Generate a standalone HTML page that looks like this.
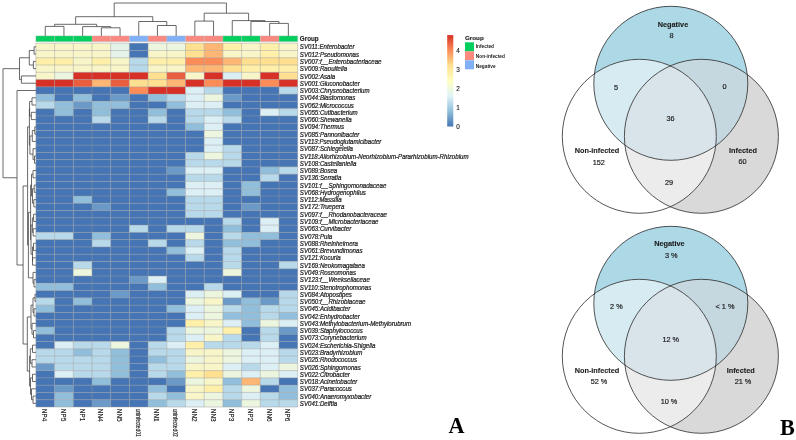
<!DOCTYPE html><html><head><meta charset="utf-8"><style>html,body{margin:0;padding:0;background:#fff;}svg{display:block;will-change:transform;}text{font-family:"Liberation Sans",sans-serif;}</style></head><body>
<svg width="796" height="440" viewBox="0 0 796 440">
<rect width="796" height="440" fill="#fff"/>
<rect x="35.90" y="43.20" width="18.70" height="7.28" fill="#F8F6C8"/>
<rect x="54.60" y="43.20" width="18.70" height="7.28" fill="#F8F6C8"/>
<rect x="73.30" y="43.20" width="18.70" height="7.28" fill="#F8F6C8"/>
<rect x="92.00" y="43.20" width="18.70" height="7.28" fill="#F8F6C8"/>
<rect x="110.70" y="43.20" width="18.70" height="7.28" fill="#E5F2E8"/>
<rect x="129.40" y="43.20" width="18.70" height="7.28" fill="#4575B4"/>
<rect x="148.10" y="43.20" width="18.70" height="7.28" fill="#ECF5DD"/>
<rect x="166.80" y="43.20" width="18.70" height="7.28" fill="#ECF5DD"/>
<rect x="185.50" y="43.20" width="18.70" height="7.28" fill="#FEE090"/>
<rect x="204.20" y="43.20" width="18.70" height="7.28" fill="#FDB674"/>
<rect x="222.90" y="43.20" width="18.70" height="7.28" fill="#FEF0A8"/>
<rect x="241.60" y="43.20" width="18.70" height="7.28" fill="#F8F6C8"/>
<rect x="260.30" y="43.20" width="18.70" height="7.28" fill="#FEF0A8"/>
<rect x="279.00" y="43.20" width="18.70" height="7.28" fill="#F8F6C8"/>
<rect x="35.90" y="50.48" width="18.70" height="7.28" fill="#F8F6C8"/>
<rect x="54.60" y="50.48" width="18.70" height="7.28" fill="#F8F6C8"/>
<rect x="73.30" y="50.48" width="18.70" height="7.28" fill="#F8F6C8"/>
<rect x="92.00" y="50.48" width="18.70" height="7.28" fill="#F8F6C8"/>
<rect x="110.70" y="50.48" width="18.70" height="7.28" fill="#E5F2E8"/>
<rect x="129.40" y="50.48" width="18.70" height="7.28" fill="#4575B4"/>
<rect x="148.10" y="50.48" width="18.70" height="7.28" fill="#F8F6C8"/>
<rect x="166.80" y="50.48" width="18.70" height="7.28" fill="#F8F6C8"/>
<rect x="185.50" y="50.48" width="18.70" height="7.28" fill="#FEE090"/>
<rect x="204.20" y="50.48" width="18.70" height="7.28" fill="#FDB674"/>
<rect x="222.90" y="50.48" width="18.70" height="7.28" fill="#F8F6C8"/>
<rect x="241.60" y="50.48" width="18.70" height="7.28" fill="#F8F6C8"/>
<rect x="260.30" y="50.48" width="18.70" height="7.28" fill="#FEF0A8"/>
<rect x="279.00" y="50.48" width="18.70" height="7.28" fill="#F8F6C8"/>
<rect x="35.90" y="57.75" width="18.70" height="7.28" fill="#FEF0A8"/>
<rect x="54.60" y="57.75" width="18.70" height="7.28" fill="#FEF0A8"/>
<rect x="73.30" y="57.75" width="18.70" height="7.28" fill="#F8F6C8"/>
<rect x="92.00" y="57.75" width="18.70" height="7.28" fill="#FEF0A8"/>
<rect x="110.70" y="57.75" width="18.70" height="7.28" fill="#F8F6C8"/>
<rect x="129.40" y="57.75" width="18.70" height="7.28" fill="#B8D9EA"/>
<rect x="148.10" y="57.75" width="18.70" height="7.28" fill="#FEF0A8"/>
<rect x="166.80" y="57.75" width="18.70" height="7.28" fill="#FEF0A8"/>
<rect x="185.50" y="57.75" width="18.70" height="7.28" fill="#FC8D59"/>
<rect x="204.20" y="57.75" width="18.70" height="7.28" fill="#FC8D59"/>
<rect x="222.90" y="57.75" width="18.70" height="7.28" fill="#FDB674"/>
<rect x="241.60" y="57.75" width="18.70" height="7.28" fill="#FEE090"/>
<rect x="260.30" y="57.75" width="18.70" height="7.28" fill="#FEE090"/>
<rect x="279.00" y="57.75" width="18.70" height="7.28" fill="#FEE090"/>
<rect x="35.90" y="65.03" width="18.70" height="7.28" fill="#F8F6C8"/>
<rect x="54.60" y="65.03" width="18.70" height="7.28" fill="#F8F6C8"/>
<rect x="73.30" y="65.03" width="18.70" height="7.28" fill="#F8F6C8"/>
<rect x="92.00" y="65.03" width="18.70" height="7.28" fill="#F8F6C8"/>
<rect x="110.70" y="65.03" width="18.70" height="7.28" fill="#F8F6C8"/>
<rect x="129.40" y="65.03" width="18.70" height="7.28" fill="#B8D9EA"/>
<rect x="148.10" y="65.03" width="18.70" height="7.28" fill="#F8F6C8"/>
<rect x="166.80" y="65.03" width="18.70" height="7.28" fill="#F8F6C8"/>
<rect x="185.50" y="65.03" width="18.70" height="7.28" fill="#FDB674"/>
<rect x="204.20" y="65.03" width="18.70" height="7.28" fill="#FDB674"/>
<rect x="222.90" y="65.03" width="18.70" height="7.28" fill="#FEE090"/>
<rect x="241.60" y="65.03" width="18.70" height="7.28" fill="#FEF0A8"/>
<rect x="260.30" y="65.03" width="18.70" height="7.28" fill="#FEF0A8"/>
<rect x="279.00" y="65.03" width="18.70" height="7.28" fill="#FEF0A8"/>
<rect x="35.90" y="72.30" width="18.70" height="7.28" fill="#F8F6C8"/>
<rect x="54.60" y="72.30" width="18.70" height="7.28" fill="#ECF5DD"/>
<rect x="73.30" y="72.30" width="18.70" height="7.28" fill="#D73027"/>
<rect x="92.00" y="72.30" width="18.70" height="7.28" fill="#D73027"/>
<rect x="110.70" y="72.30" width="18.70" height="7.28" fill="#D73027"/>
<rect x="129.40" y="72.30" width="18.70" height="7.28" fill="#D73027"/>
<rect x="148.10" y="72.30" width="18.70" height="7.28" fill="#FEE090"/>
<rect x="166.80" y="72.30" width="18.70" height="7.28" fill="#EA5E40"/>
<rect x="185.50" y="72.30" width="18.70" height="7.28" fill="#F8F6C8"/>
<rect x="204.20" y="72.30" width="18.70" height="7.28" fill="#D73027"/>
<rect x="222.90" y="72.30" width="18.70" height="7.28" fill="#DCEFF4"/>
<rect x="241.60" y="72.30" width="18.70" height="7.28" fill="#F8F6C8"/>
<rect x="260.30" y="72.30" width="18.70" height="7.28" fill="#D73027"/>
<rect x="279.00" y="72.30" width="18.70" height="7.28" fill="#FEE090"/>
<rect x="35.90" y="79.58" width="18.70" height="7.28" fill="#D73027"/>
<rect x="54.60" y="79.58" width="18.70" height="7.28" fill="#D73027"/>
<rect x="73.30" y="79.58" width="18.70" height="7.28" fill="#EA5E40"/>
<rect x="92.00" y="79.58" width="18.70" height="7.28" fill="#FDB674"/>
<rect x="110.70" y="79.58" width="18.70" height="7.28" fill="#EA5E40"/>
<rect x="129.40" y="79.58" width="18.70" height="7.28" fill="#FEE090"/>
<rect x="148.10" y="79.58" width="18.70" height="7.28" fill="#FEE090"/>
<rect x="166.80" y="79.58" width="18.70" height="7.28" fill="#FDB674"/>
<rect x="185.50" y="79.58" width="18.70" height="7.28" fill="#D73027"/>
<rect x="204.20" y="79.58" width="18.70" height="7.28" fill="#FC8D59"/>
<rect x="222.90" y="79.58" width="18.70" height="7.28" fill="#D73027"/>
<rect x="241.60" y="79.58" width="18.70" height="7.28" fill="#D73027"/>
<rect x="260.30" y="79.58" width="18.70" height="7.28" fill="#FC8D59"/>
<rect x="279.00" y="79.58" width="18.70" height="7.28" fill="#D73027"/>
<rect x="35.90" y="86.86" width="18.70" height="7.28" fill="#4575B4"/>
<rect x="54.60" y="86.86" width="18.70" height="7.28" fill="#4575B4"/>
<rect x="73.30" y="86.86" width="18.70" height="7.28" fill="#4575B4"/>
<rect x="92.00" y="86.86" width="18.70" height="7.28" fill="#4575B4"/>
<rect x="110.70" y="86.86" width="18.70" height="7.28" fill="#4575B4"/>
<rect x="129.40" y="86.86" width="18.70" height="7.28" fill="#FC8D59"/>
<rect x="148.10" y="86.86" width="18.70" height="7.28" fill="#D73027"/>
<rect x="166.80" y="86.86" width="18.70" height="7.28" fill="#D73027"/>
<rect x="185.50" y="86.86" width="18.70" height="7.28" fill="#DCEFF4"/>
<rect x="204.20" y="86.86" width="18.70" height="7.28" fill="#B8D9EA"/>
<rect x="222.90" y="86.86" width="18.70" height="7.28" fill="#4575B4"/>
<rect x="241.60" y="86.86" width="18.70" height="7.28" fill="#4575B4"/>
<rect x="260.30" y="86.86" width="18.70" height="7.28" fill="#4575B4"/>
<rect x="279.00" y="86.86" width="18.70" height="7.28" fill="#B8D9EA"/>
<rect x="35.90" y="94.13" width="18.70" height="7.28" fill="#91BFDB"/>
<rect x="54.60" y="94.13" width="18.70" height="7.28" fill="#4575B4"/>
<rect x="73.30" y="94.13" width="18.70" height="7.28" fill="#91BFDB"/>
<rect x="92.00" y="94.13" width="18.70" height="7.28" fill="#4575B4"/>
<rect x="110.70" y="94.13" width="18.70" height="7.28" fill="#6B9AC8"/>
<rect x="129.40" y="94.13" width="18.70" height="7.28" fill="#4575B4"/>
<rect x="148.10" y="94.13" width="18.70" height="7.28" fill="#91BFDB"/>
<rect x="166.80" y="94.13" width="18.70" height="7.28" fill="#B8D9EA"/>
<rect x="185.50" y="94.13" width="18.70" height="7.28" fill="#DCEFF4"/>
<rect x="204.20" y="94.13" width="18.70" height="7.28" fill="#ECF5DD"/>
<rect x="222.90" y="94.13" width="18.70" height="7.28" fill="#6B9AC8"/>
<rect x="241.60" y="94.13" width="18.70" height="7.28" fill="#4575B4"/>
<rect x="260.30" y="94.13" width="18.70" height="7.28" fill="#4575B4"/>
<rect x="279.00" y="94.13" width="18.70" height="7.28" fill="#4575B4"/>
<rect x="35.90" y="101.41" width="18.70" height="7.28" fill="#B8D9EA"/>
<rect x="54.60" y="101.41" width="18.70" height="7.28" fill="#91BFDB"/>
<rect x="73.30" y="101.41" width="18.70" height="7.28" fill="#6B9AC8"/>
<rect x="92.00" y="101.41" width="18.70" height="7.28" fill="#91BFDB"/>
<rect x="110.70" y="101.41" width="18.70" height="7.28" fill="#91BFDB"/>
<rect x="129.40" y="101.41" width="18.70" height="7.28" fill="#4575B4"/>
<rect x="148.10" y="101.41" width="18.70" height="7.28" fill="#4575B4"/>
<rect x="166.80" y="101.41" width="18.70" height="7.28" fill="#91BFDB"/>
<rect x="185.50" y="101.41" width="18.70" height="7.28" fill="#DCEFF4"/>
<rect x="204.20" y="101.41" width="18.70" height="7.28" fill="#DCEFF4"/>
<rect x="222.90" y="101.41" width="18.70" height="7.28" fill="#4575B4"/>
<rect x="241.60" y="101.41" width="18.70" height="7.28" fill="#4575B4"/>
<rect x="260.30" y="101.41" width="18.70" height="7.28" fill="#4575B4"/>
<rect x="279.00" y="101.41" width="18.70" height="7.28" fill="#4575B4"/>
<rect x="35.90" y="108.68" width="18.70" height="7.28" fill="#4575B4"/>
<rect x="54.60" y="108.68" width="18.70" height="7.28" fill="#91BFDB"/>
<rect x="73.30" y="108.68" width="18.70" height="7.28" fill="#4575B4"/>
<rect x="92.00" y="108.68" width="18.70" height="7.28" fill="#91BFDB"/>
<rect x="110.70" y="108.68" width="18.70" height="7.28" fill="#4575B4"/>
<rect x="129.40" y="108.68" width="18.70" height="7.28" fill="#4575B4"/>
<rect x="148.10" y="108.68" width="18.70" height="7.28" fill="#91BFDB"/>
<rect x="166.80" y="108.68" width="18.70" height="7.28" fill="#4575B4"/>
<rect x="185.50" y="108.68" width="18.70" height="7.28" fill="#B8D9EA"/>
<rect x="204.20" y="108.68" width="18.70" height="7.28" fill="#B8D9EA"/>
<rect x="222.90" y="108.68" width="18.70" height="7.28" fill="#91BFDB"/>
<rect x="241.60" y="108.68" width="18.70" height="7.28" fill="#4575B4"/>
<rect x="260.30" y="108.68" width="18.70" height="7.28" fill="#DCEFF4"/>
<rect x="279.00" y="108.68" width="18.70" height="7.28" fill="#B8D9EA"/>
<rect x="35.90" y="115.96" width="18.70" height="7.28" fill="#4575B4"/>
<rect x="54.60" y="115.96" width="18.70" height="7.28" fill="#4575B4"/>
<rect x="73.30" y="115.96" width="18.70" height="7.28" fill="#4575B4"/>
<rect x="92.00" y="115.96" width="18.70" height="7.28" fill="#B8D9EA"/>
<rect x="110.70" y="115.96" width="18.70" height="7.28" fill="#4575B4"/>
<rect x="129.40" y="115.96" width="18.70" height="7.28" fill="#4575B4"/>
<rect x="148.10" y="115.96" width="18.70" height="7.28" fill="#B8D9EA"/>
<rect x="166.80" y="115.96" width="18.70" height="7.28" fill="#4575B4"/>
<rect x="185.50" y="115.96" width="18.70" height="7.28" fill="#B8D9EA"/>
<rect x="204.20" y="115.96" width="18.70" height="7.28" fill="#DCEFF4"/>
<rect x="222.90" y="115.96" width="18.70" height="7.28" fill="#B8D9EA"/>
<rect x="241.60" y="115.96" width="18.70" height="7.28" fill="#4575B4"/>
<rect x="260.30" y="115.96" width="18.70" height="7.28" fill="#4575B4"/>
<rect x="279.00" y="115.96" width="18.70" height="7.28" fill="#4575B4"/>
<rect x="35.90" y="123.24" width="18.70" height="7.28" fill="#4575B4"/>
<rect x="54.60" y="123.24" width="18.70" height="7.28" fill="#4575B4"/>
<rect x="73.30" y="123.24" width="18.70" height="7.28" fill="#4575B4"/>
<rect x="92.00" y="123.24" width="18.70" height="7.28" fill="#4575B4"/>
<rect x="110.70" y="123.24" width="18.70" height="7.28" fill="#4575B4"/>
<rect x="129.40" y="123.24" width="18.70" height="7.28" fill="#4575B4"/>
<rect x="148.10" y="123.24" width="18.70" height="7.28" fill="#4575B4"/>
<rect x="166.80" y="123.24" width="18.70" height="7.28" fill="#4575B4"/>
<rect x="185.50" y="123.24" width="18.70" height="7.28" fill="#91BFDB"/>
<rect x="204.20" y="123.24" width="18.70" height="7.28" fill="#DCEFF4"/>
<rect x="222.90" y="123.24" width="18.70" height="7.28" fill="#4575B4"/>
<rect x="241.60" y="123.24" width="18.70" height="7.28" fill="#4575B4"/>
<rect x="260.30" y="123.24" width="18.70" height="7.28" fill="#4575B4"/>
<rect x="279.00" y="123.24" width="18.70" height="7.28" fill="#4575B4"/>
<rect x="35.90" y="130.51" width="18.70" height="7.28" fill="#4575B4"/>
<rect x="54.60" y="130.51" width="18.70" height="7.28" fill="#4575B4"/>
<rect x="73.30" y="130.51" width="18.70" height="7.28" fill="#4575B4"/>
<rect x="92.00" y="130.51" width="18.70" height="7.28" fill="#4575B4"/>
<rect x="110.70" y="130.51" width="18.70" height="7.28" fill="#4575B4"/>
<rect x="129.40" y="130.51" width="18.70" height="7.28" fill="#4575B4"/>
<rect x="148.10" y="130.51" width="18.70" height="7.28" fill="#4575B4"/>
<rect x="166.80" y="130.51" width="18.70" height="7.28" fill="#4575B4"/>
<rect x="185.50" y="130.51" width="18.70" height="7.28" fill="#4575B4"/>
<rect x="204.20" y="130.51" width="18.70" height="7.28" fill="#ECF5DD"/>
<rect x="222.90" y="130.51" width="18.70" height="7.28" fill="#4575B4"/>
<rect x="241.60" y="130.51" width="18.70" height="7.28" fill="#4575B4"/>
<rect x="260.30" y="130.51" width="18.70" height="7.28" fill="#4575B4"/>
<rect x="279.00" y="130.51" width="18.70" height="7.28" fill="#4575B4"/>
<rect x="35.90" y="137.79" width="18.70" height="7.28" fill="#4575B4"/>
<rect x="54.60" y="137.79" width="18.70" height="7.28" fill="#4575B4"/>
<rect x="73.30" y="137.79" width="18.70" height="7.28" fill="#4575B4"/>
<rect x="92.00" y="137.79" width="18.70" height="7.28" fill="#4575B4"/>
<rect x="110.70" y="137.79" width="18.70" height="7.28" fill="#4575B4"/>
<rect x="129.40" y="137.79" width="18.70" height="7.28" fill="#4575B4"/>
<rect x="148.10" y="137.79" width="18.70" height="7.28" fill="#4575B4"/>
<rect x="166.80" y="137.79" width="18.70" height="7.28" fill="#4575B4"/>
<rect x="185.50" y="137.79" width="18.70" height="7.28" fill="#4575B4"/>
<rect x="204.20" y="137.79" width="18.70" height="7.28" fill="#DCEFF4"/>
<rect x="222.90" y="137.79" width="18.70" height="7.28" fill="#4575B4"/>
<rect x="241.60" y="137.79" width="18.70" height="7.28" fill="#4575B4"/>
<rect x="260.30" y="137.79" width="18.70" height="7.28" fill="#4575B4"/>
<rect x="279.00" y="137.79" width="18.70" height="7.28" fill="#4575B4"/>
<rect x="35.90" y="145.06" width="18.70" height="7.28" fill="#4575B4"/>
<rect x="54.60" y="145.06" width="18.70" height="7.28" fill="#4575B4"/>
<rect x="73.30" y="145.06" width="18.70" height="7.28" fill="#4575B4"/>
<rect x="92.00" y="145.06" width="18.70" height="7.28" fill="#4575B4"/>
<rect x="110.70" y="145.06" width="18.70" height="7.28" fill="#4575B4"/>
<rect x="129.40" y="145.06" width="18.70" height="7.28" fill="#4575B4"/>
<rect x="148.10" y="145.06" width="18.70" height="7.28" fill="#4575B4"/>
<rect x="166.80" y="145.06" width="18.70" height="7.28" fill="#4575B4"/>
<rect x="185.50" y="145.06" width="18.70" height="7.28" fill="#4575B4"/>
<rect x="204.20" y="145.06" width="18.70" height="7.28" fill="#DCEFF4"/>
<rect x="222.90" y="145.06" width="18.70" height="7.28" fill="#B8D9EA"/>
<rect x="241.60" y="145.06" width="18.70" height="7.28" fill="#4575B4"/>
<rect x="260.30" y="145.06" width="18.70" height="7.28" fill="#4575B4"/>
<rect x="279.00" y="145.06" width="18.70" height="7.28" fill="#4575B4"/>
<rect x="35.90" y="152.34" width="18.70" height="7.28" fill="#4575B4"/>
<rect x="54.60" y="152.34" width="18.70" height="7.28" fill="#4575B4"/>
<rect x="73.30" y="152.34" width="18.70" height="7.28" fill="#4575B4"/>
<rect x="92.00" y="152.34" width="18.70" height="7.28" fill="#4575B4"/>
<rect x="110.70" y="152.34" width="18.70" height="7.28" fill="#4575B4"/>
<rect x="129.40" y="152.34" width="18.70" height="7.28" fill="#4575B4"/>
<rect x="148.10" y="152.34" width="18.70" height="7.28" fill="#4575B4"/>
<rect x="166.80" y="152.34" width="18.70" height="7.28" fill="#4575B4"/>
<rect x="185.50" y="152.34" width="18.70" height="7.28" fill="#B8D9EA"/>
<rect x="204.20" y="152.34" width="18.70" height="7.28" fill="#ECF5DD"/>
<rect x="222.90" y="152.34" width="18.70" height="7.28" fill="#B8D9EA"/>
<rect x="241.60" y="152.34" width="18.70" height="7.28" fill="#4575B4"/>
<rect x="260.30" y="152.34" width="18.70" height="7.28" fill="#4575B4"/>
<rect x="279.00" y="152.34" width="18.70" height="7.28" fill="#4575B4"/>
<rect x="35.90" y="159.62" width="18.70" height="7.28" fill="#4575B4"/>
<rect x="54.60" y="159.62" width="18.70" height="7.28" fill="#4575B4"/>
<rect x="73.30" y="159.62" width="18.70" height="7.28" fill="#4575B4"/>
<rect x="92.00" y="159.62" width="18.70" height="7.28" fill="#4575B4"/>
<rect x="110.70" y="159.62" width="18.70" height="7.28" fill="#4575B4"/>
<rect x="129.40" y="159.62" width="18.70" height="7.28" fill="#4575B4"/>
<rect x="148.10" y="159.62" width="18.70" height="7.28" fill="#4575B4"/>
<rect x="166.80" y="159.62" width="18.70" height="7.28" fill="#4575B4"/>
<rect x="185.50" y="159.62" width="18.70" height="7.28" fill="#B8D9EA"/>
<rect x="204.20" y="159.62" width="18.70" height="7.28" fill="#B8D9EA"/>
<rect x="222.90" y="159.62" width="18.70" height="7.28" fill="#B8D9EA"/>
<rect x="241.60" y="159.62" width="18.70" height="7.28" fill="#4575B4"/>
<rect x="260.30" y="159.62" width="18.70" height="7.28" fill="#4575B4"/>
<rect x="279.00" y="159.62" width="18.70" height="7.28" fill="#4575B4"/>
<rect x="35.90" y="166.89" width="18.70" height="7.28" fill="#4575B4"/>
<rect x="54.60" y="166.89" width="18.70" height="7.28" fill="#4575B4"/>
<rect x="73.30" y="166.89" width="18.70" height="7.28" fill="#4575B4"/>
<rect x="92.00" y="166.89" width="18.70" height="7.28" fill="#4575B4"/>
<rect x="110.70" y="166.89" width="18.70" height="7.28" fill="#4575B4"/>
<rect x="129.40" y="166.89" width="18.70" height="7.28" fill="#4575B4"/>
<rect x="148.10" y="166.89" width="18.70" height="7.28" fill="#4575B4"/>
<rect x="166.80" y="166.89" width="18.70" height="7.28" fill="#6B9AC8"/>
<rect x="185.50" y="166.89" width="18.70" height="7.28" fill="#DCEFF4"/>
<rect x="204.20" y="166.89" width="18.70" height="7.28" fill="#DCEFF4"/>
<rect x="222.90" y="166.89" width="18.70" height="7.28" fill="#4575B4"/>
<rect x="241.60" y="166.89" width="18.70" height="7.28" fill="#4575B4"/>
<rect x="260.30" y="166.89" width="18.70" height="7.28" fill="#91BFDB"/>
<rect x="279.00" y="166.89" width="18.70" height="7.28" fill="#B8D9EA"/>
<rect x="35.90" y="174.17" width="18.70" height="7.28" fill="#4575B4"/>
<rect x="54.60" y="174.17" width="18.70" height="7.28" fill="#4575B4"/>
<rect x="73.30" y="174.17" width="18.70" height="7.28" fill="#4575B4"/>
<rect x="92.00" y="174.17" width="18.70" height="7.28" fill="#4575B4"/>
<rect x="110.70" y="174.17" width="18.70" height="7.28" fill="#4575B4"/>
<rect x="129.40" y="174.17" width="18.70" height="7.28" fill="#4575B4"/>
<rect x="148.10" y="174.17" width="18.70" height="7.28" fill="#4575B4"/>
<rect x="166.80" y="174.17" width="18.70" height="7.28" fill="#4575B4"/>
<rect x="185.50" y="174.17" width="18.70" height="7.28" fill="#B8D9EA"/>
<rect x="204.20" y="174.17" width="18.70" height="7.28" fill="#B8D9EA"/>
<rect x="222.90" y="174.17" width="18.70" height="7.28" fill="#4575B4"/>
<rect x="241.60" y="174.17" width="18.70" height="7.28" fill="#4575B4"/>
<rect x="260.30" y="174.17" width="18.70" height="7.28" fill="#B8D9EA"/>
<rect x="279.00" y="174.17" width="18.70" height="7.28" fill="#4575B4"/>
<rect x="35.90" y="181.44" width="18.70" height="7.28" fill="#4575B4"/>
<rect x="54.60" y="181.44" width="18.70" height="7.28" fill="#4575B4"/>
<rect x="73.30" y="181.44" width="18.70" height="7.28" fill="#4575B4"/>
<rect x="92.00" y="181.44" width="18.70" height="7.28" fill="#4575B4"/>
<rect x="110.70" y="181.44" width="18.70" height="7.28" fill="#4575B4"/>
<rect x="129.40" y="181.44" width="18.70" height="7.28" fill="#4575B4"/>
<rect x="148.10" y="181.44" width="18.70" height="7.28" fill="#4575B4"/>
<rect x="166.80" y="181.44" width="18.70" height="7.28" fill="#4575B4"/>
<rect x="185.50" y="181.44" width="18.70" height="7.28" fill="#DCEFF4"/>
<rect x="204.20" y="181.44" width="18.70" height="7.28" fill="#DCEFF4"/>
<rect x="222.90" y="181.44" width="18.70" height="7.28" fill="#4575B4"/>
<rect x="241.60" y="181.44" width="18.70" height="7.28" fill="#91BFDB"/>
<rect x="260.30" y="181.44" width="18.70" height="7.28" fill="#4575B4"/>
<rect x="279.00" y="181.44" width="18.70" height="7.28" fill="#4575B4"/>
<rect x="35.90" y="188.72" width="18.70" height="7.28" fill="#4575B4"/>
<rect x="54.60" y="188.72" width="18.70" height="7.28" fill="#4575B4"/>
<rect x="73.30" y="188.72" width="18.70" height="7.28" fill="#4575B4"/>
<rect x="92.00" y="188.72" width="18.70" height="7.28" fill="#4575B4"/>
<rect x="110.70" y="188.72" width="18.70" height="7.28" fill="#4575B4"/>
<rect x="129.40" y="188.72" width="18.70" height="7.28" fill="#4575B4"/>
<rect x="148.10" y="188.72" width="18.70" height="7.28" fill="#4575B4"/>
<rect x="166.80" y="188.72" width="18.70" height="7.28" fill="#91BFDB"/>
<rect x="185.50" y="188.72" width="18.70" height="7.28" fill="#DCEFF4"/>
<rect x="204.20" y="188.72" width="18.70" height="7.28" fill="#DCEFF4"/>
<rect x="222.90" y="188.72" width="18.70" height="7.28" fill="#4575B4"/>
<rect x="241.60" y="188.72" width="18.70" height="7.28" fill="#91BFDB"/>
<rect x="260.30" y="188.72" width="18.70" height="7.28" fill="#4575B4"/>
<rect x="279.00" y="188.72" width="18.70" height="7.28" fill="#4575B4"/>
<rect x="35.90" y="196.00" width="18.70" height="7.28" fill="#4575B4"/>
<rect x="54.60" y="196.00" width="18.70" height="7.28" fill="#4575B4"/>
<rect x="73.30" y="196.00" width="18.70" height="7.28" fill="#91BFDB"/>
<rect x="92.00" y="196.00" width="18.70" height="7.28" fill="#4575B4"/>
<rect x="110.70" y="196.00" width="18.70" height="7.28" fill="#4575B4"/>
<rect x="129.40" y="196.00" width="18.70" height="7.28" fill="#4575B4"/>
<rect x="148.10" y="196.00" width="18.70" height="7.28" fill="#4575B4"/>
<rect x="166.80" y="196.00" width="18.70" height="7.28" fill="#4575B4"/>
<rect x="185.50" y="196.00" width="18.70" height="7.28" fill="#B8D9EA"/>
<rect x="204.20" y="196.00" width="18.70" height="7.28" fill="#B8D9EA"/>
<rect x="222.90" y="196.00" width="18.70" height="7.28" fill="#4575B4"/>
<rect x="241.60" y="196.00" width="18.70" height="7.28" fill="#4575B4"/>
<rect x="260.30" y="196.00" width="18.70" height="7.28" fill="#4575B4"/>
<rect x="279.00" y="196.00" width="18.70" height="7.28" fill="#4575B4"/>
<rect x="35.90" y="203.27" width="18.70" height="7.28" fill="#4575B4"/>
<rect x="54.60" y="203.27" width="18.70" height="7.28" fill="#4575B4"/>
<rect x="73.30" y="203.27" width="18.70" height="7.28" fill="#4575B4"/>
<rect x="92.00" y="203.27" width="18.70" height="7.28" fill="#6B9AC8"/>
<rect x="110.70" y="203.27" width="18.70" height="7.28" fill="#4575B4"/>
<rect x="129.40" y="203.27" width="18.70" height="7.28" fill="#4575B4"/>
<rect x="148.10" y="203.27" width="18.70" height="7.28" fill="#4575B4"/>
<rect x="166.80" y="203.27" width="18.70" height="7.28" fill="#4575B4"/>
<rect x="185.50" y="203.27" width="18.70" height="7.28" fill="#B8D9EA"/>
<rect x="204.20" y="203.27" width="18.70" height="7.28" fill="#B8D9EA"/>
<rect x="222.90" y="203.27" width="18.70" height="7.28" fill="#4575B4"/>
<rect x="241.60" y="203.27" width="18.70" height="7.28" fill="#6B9AC8"/>
<rect x="260.30" y="203.27" width="18.70" height="7.28" fill="#4575B4"/>
<rect x="279.00" y="203.27" width="18.70" height="7.28" fill="#4575B4"/>
<rect x="35.90" y="210.55" width="18.70" height="7.28" fill="#4575B4"/>
<rect x="54.60" y="210.55" width="18.70" height="7.28" fill="#4575B4"/>
<rect x="73.30" y="210.55" width="18.70" height="7.28" fill="#4575B4"/>
<rect x="92.00" y="210.55" width="18.70" height="7.28" fill="#4575B4"/>
<rect x="110.70" y="210.55" width="18.70" height="7.28" fill="#4575B4"/>
<rect x="129.40" y="210.55" width="18.70" height="7.28" fill="#4575B4"/>
<rect x="148.10" y="210.55" width="18.70" height="7.28" fill="#4575B4"/>
<rect x="166.80" y="210.55" width="18.70" height="7.28" fill="#4575B4"/>
<rect x="185.50" y="210.55" width="18.70" height="7.28" fill="#B8D9EA"/>
<rect x="204.20" y="210.55" width="18.70" height="7.28" fill="#B8D9EA"/>
<rect x="222.90" y="210.55" width="18.70" height="7.28" fill="#4575B4"/>
<rect x="241.60" y="210.55" width="18.70" height="7.28" fill="#4575B4"/>
<rect x="260.30" y="210.55" width="18.70" height="7.28" fill="#4575B4"/>
<rect x="279.00" y="210.55" width="18.70" height="7.28" fill="#4575B4"/>
<rect x="35.90" y="217.82" width="18.70" height="7.28" fill="#4575B4"/>
<rect x="54.60" y="217.82" width="18.70" height="7.28" fill="#4575B4"/>
<rect x="73.30" y="217.82" width="18.70" height="7.28" fill="#4575B4"/>
<rect x="92.00" y="217.82" width="18.70" height="7.28" fill="#4575B4"/>
<rect x="110.70" y="217.82" width="18.70" height="7.28" fill="#4575B4"/>
<rect x="129.40" y="217.82" width="18.70" height="7.28" fill="#4575B4"/>
<rect x="148.10" y="217.82" width="18.70" height="7.28" fill="#4575B4"/>
<rect x="166.80" y="217.82" width="18.70" height="7.28" fill="#4575B4"/>
<rect x="185.50" y="217.82" width="18.70" height="7.28" fill="#4575B4"/>
<rect x="204.20" y="217.82" width="18.70" height="7.28" fill="#4575B4"/>
<rect x="222.90" y="217.82" width="18.70" height="7.28" fill="#B8D9EA"/>
<rect x="241.60" y="217.82" width="18.70" height="7.28" fill="#4575B4"/>
<rect x="260.30" y="217.82" width="18.70" height="7.28" fill="#DCEFF4"/>
<rect x="279.00" y="217.82" width="18.70" height="7.28" fill="#4575B4"/>
<rect x="35.90" y="225.10" width="18.70" height="7.28" fill="#4575B4"/>
<rect x="54.60" y="225.10" width="18.70" height="7.28" fill="#4575B4"/>
<rect x="73.30" y="225.10" width="18.70" height="7.28" fill="#4575B4"/>
<rect x="92.00" y="225.10" width="18.70" height="7.28" fill="#4575B4"/>
<rect x="110.70" y="225.10" width="18.70" height="7.28" fill="#4575B4"/>
<rect x="129.40" y="225.10" width="18.70" height="7.28" fill="#B8D9EA"/>
<rect x="148.10" y="225.10" width="18.70" height="7.28" fill="#4575B4"/>
<rect x="166.80" y="225.10" width="18.70" height="7.28" fill="#B8D9EA"/>
<rect x="185.50" y="225.10" width="18.70" height="7.28" fill="#B8D9EA"/>
<rect x="204.20" y="225.10" width="18.70" height="7.28" fill="#4575B4"/>
<rect x="222.90" y="225.10" width="18.70" height="7.28" fill="#91BFDB"/>
<rect x="241.60" y="225.10" width="18.70" height="7.28" fill="#4575B4"/>
<rect x="260.30" y="225.10" width="18.70" height="7.28" fill="#DCEFF4"/>
<rect x="279.00" y="225.10" width="18.70" height="7.28" fill="#4575B4"/>
<rect x="35.90" y="232.38" width="18.70" height="7.28" fill="#B8D9EA"/>
<rect x="54.60" y="232.38" width="18.70" height="7.28" fill="#B8D9EA"/>
<rect x="73.30" y="232.38" width="18.70" height="7.28" fill="#4575B4"/>
<rect x="92.00" y="232.38" width="18.70" height="7.28" fill="#91BFDB"/>
<rect x="110.70" y="232.38" width="18.70" height="7.28" fill="#4575B4"/>
<rect x="129.40" y="232.38" width="18.70" height="7.28" fill="#4575B4"/>
<rect x="148.10" y="232.38" width="18.70" height="7.28" fill="#4575B4"/>
<rect x="166.80" y="232.38" width="18.70" height="7.28" fill="#4575B4"/>
<rect x="185.50" y="232.38" width="18.70" height="7.28" fill="#ECF5DD"/>
<rect x="204.20" y="232.38" width="18.70" height="7.28" fill="#4575B4"/>
<rect x="222.90" y="232.38" width="18.70" height="7.28" fill="#B8D9EA"/>
<rect x="241.60" y="232.38" width="18.70" height="7.28" fill="#91BFDB"/>
<rect x="260.30" y="232.38" width="18.70" height="7.28" fill="#91BFDB"/>
<rect x="279.00" y="232.38" width="18.70" height="7.28" fill="#4575B4"/>
<rect x="35.90" y="239.65" width="18.70" height="7.28" fill="#4575B4"/>
<rect x="54.60" y="239.65" width="18.70" height="7.28" fill="#4575B4"/>
<rect x="73.30" y="239.65" width="18.70" height="7.28" fill="#4575B4"/>
<rect x="92.00" y="239.65" width="18.70" height="7.28" fill="#B8D9EA"/>
<rect x="110.70" y="239.65" width="18.70" height="7.28" fill="#4575B4"/>
<rect x="129.40" y="239.65" width="18.70" height="7.28" fill="#4575B4"/>
<rect x="148.10" y="239.65" width="18.70" height="7.28" fill="#B8D9EA"/>
<rect x="166.80" y="239.65" width="18.70" height="7.28" fill="#4575B4"/>
<rect x="185.50" y="239.65" width="18.70" height="7.28" fill="#B8D9EA"/>
<rect x="204.20" y="239.65" width="18.70" height="7.28" fill="#4575B4"/>
<rect x="222.90" y="239.65" width="18.70" height="7.28" fill="#91BFDB"/>
<rect x="241.60" y="239.65" width="18.70" height="7.28" fill="#91BFDB"/>
<rect x="260.30" y="239.65" width="18.70" height="7.28" fill="#4575B4"/>
<rect x="279.00" y="239.65" width="18.70" height="7.28" fill="#4575B4"/>
<rect x="35.90" y="246.93" width="18.70" height="7.28" fill="#4575B4"/>
<rect x="54.60" y="246.93" width="18.70" height="7.28" fill="#4575B4"/>
<rect x="73.30" y="246.93" width="18.70" height="7.28" fill="#4575B4"/>
<rect x="92.00" y="246.93" width="18.70" height="7.28" fill="#4575B4"/>
<rect x="110.70" y="246.93" width="18.70" height="7.28" fill="#4575B4"/>
<rect x="129.40" y="246.93" width="18.70" height="7.28" fill="#4575B4"/>
<rect x="148.10" y="246.93" width="18.70" height="7.28" fill="#4575B4"/>
<rect x="166.80" y="246.93" width="18.70" height="7.28" fill="#91BFDB"/>
<rect x="185.50" y="246.93" width="18.70" height="7.28" fill="#DCEFF4"/>
<rect x="204.20" y="246.93" width="18.70" height="7.28" fill="#4575B4"/>
<rect x="222.90" y="246.93" width="18.70" height="7.28" fill="#B8D9EA"/>
<rect x="241.60" y="246.93" width="18.70" height="7.28" fill="#4575B4"/>
<rect x="260.30" y="246.93" width="18.70" height="7.28" fill="#4575B4"/>
<rect x="279.00" y="246.93" width="18.70" height="7.28" fill="#4575B4"/>
<rect x="35.90" y="254.20" width="18.70" height="7.28" fill="#4575B4"/>
<rect x="54.60" y="254.20" width="18.70" height="7.28" fill="#4575B4"/>
<rect x="73.30" y="254.20" width="18.70" height="7.28" fill="#4575B4"/>
<rect x="92.00" y="254.20" width="18.70" height="7.28" fill="#4575B4"/>
<rect x="110.70" y="254.20" width="18.70" height="7.28" fill="#4575B4"/>
<rect x="129.40" y="254.20" width="18.70" height="7.28" fill="#4575B4"/>
<rect x="148.10" y="254.20" width="18.70" height="7.28" fill="#4575B4"/>
<rect x="166.80" y="254.20" width="18.70" height="7.28" fill="#4575B4"/>
<rect x="185.50" y="254.20" width="18.70" height="7.28" fill="#B8D9EA"/>
<rect x="204.20" y="254.20" width="18.70" height="7.28" fill="#4575B4"/>
<rect x="222.90" y="254.20" width="18.70" height="7.28" fill="#B8D9EA"/>
<rect x="241.60" y="254.20" width="18.70" height="7.28" fill="#4575B4"/>
<rect x="260.30" y="254.20" width="18.70" height="7.28" fill="#4575B4"/>
<rect x="279.00" y="254.20" width="18.70" height="7.28" fill="#4575B4"/>
<rect x="35.90" y="261.48" width="18.70" height="7.28" fill="#4575B4"/>
<rect x="54.60" y="261.48" width="18.70" height="7.28" fill="#4575B4"/>
<rect x="73.30" y="261.48" width="18.70" height="7.28" fill="#B8D9EA"/>
<rect x="92.00" y="261.48" width="18.70" height="7.28" fill="#4575B4"/>
<rect x="110.70" y="261.48" width="18.70" height="7.28" fill="#4575B4"/>
<rect x="129.40" y="261.48" width="18.70" height="7.28" fill="#4575B4"/>
<rect x="148.10" y="261.48" width="18.70" height="7.28" fill="#4575B4"/>
<rect x="166.80" y="261.48" width="18.70" height="7.28" fill="#4575B4"/>
<rect x="185.50" y="261.48" width="18.70" height="7.28" fill="#4575B4"/>
<rect x="204.20" y="261.48" width="18.70" height="7.28" fill="#4575B4"/>
<rect x="222.90" y="261.48" width="18.70" height="7.28" fill="#B8D9EA"/>
<rect x="241.60" y="261.48" width="18.70" height="7.28" fill="#4575B4"/>
<rect x="260.30" y="261.48" width="18.70" height="7.28" fill="#4575B4"/>
<rect x="279.00" y="261.48" width="18.70" height="7.28" fill="#B8D9EA"/>
<rect x="35.90" y="268.76" width="18.70" height="7.28" fill="#4575B4"/>
<rect x="54.60" y="268.76" width="18.70" height="7.28" fill="#4575B4"/>
<rect x="73.30" y="268.76" width="18.70" height="7.28" fill="#ECF5DD"/>
<rect x="92.00" y="268.76" width="18.70" height="7.28" fill="#4575B4"/>
<rect x="110.70" y="268.76" width="18.70" height="7.28" fill="#4575B4"/>
<rect x="129.40" y="268.76" width="18.70" height="7.28" fill="#4575B4"/>
<rect x="148.10" y="268.76" width="18.70" height="7.28" fill="#4575B4"/>
<rect x="166.80" y="268.76" width="18.70" height="7.28" fill="#4575B4"/>
<rect x="185.50" y="268.76" width="18.70" height="7.28" fill="#4575B4"/>
<rect x="204.20" y="268.76" width="18.70" height="7.28" fill="#4575B4"/>
<rect x="222.90" y="268.76" width="18.70" height="7.28" fill="#ECF5DD"/>
<rect x="241.60" y="268.76" width="18.70" height="7.28" fill="#4575B4"/>
<rect x="260.30" y="268.76" width="18.70" height="7.28" fill="#4575B4"/>
<rect x="279.00" y="268.76" width="18.70" height="7.28" fill="#4575B4"/>
<rect x="35.90" y="276.03" width="18.70" height="7.28" fill="#4575B4"/>
<rect x="54.60" y="276.03" width="18.70" height="7.28" fill="#4575B4"/>
<rect x="73.30" y="276.03" width="18.70" height="7.28" fill="#4575B4"/>
<rect x="92.00" y="276.03" width="18.70" height="7.28" fill="#4575B4"/>
<rect x="110.70" y="276.03" width="18.70" height="7.28" fill="#4575B4"/>
<rect x="129.40" y="276.03" width="18.70" height="7.28" fill="#6B9AC8"/>
<rect x="148.10" y="276.03" width="18.70" height="7.28" fill="#DCEFF4"/>
<rect x="166.80" y="276.03" width="18.70" height="7.28" fill="#4575B4"/>
<rect x="185.50" y="276.03" width="18.70" height="7.28" fill="#4575B4"/>
<rect x="204.20" y="276.03" width="18.70" height="7.28" fill="#4575B4"/>
<rect x="222.90" y="276.03" width="18.70" height="7.28" fill="#4575B4"/>
<rect x="241.60" y="276.03" width="18.70" height="7.28" fill="#4575B4"/>
<rect x="260.30" y="276.03" width="18.70" height="7.28" fill="#4575B4"/>
<rect x="279.00" y="276.03" width="18.70" height="7.28" fill="#4575B4"/>
<rect x="35.90" y="283.31" width="18.70" height="7.28" fill="#91BFDB"/>
<rect x="54.60" y="283.31" width="18.70" height="7.28" fill="#91BFDB"/>
<rect x="73.30" y="283.31" width="18.70" height="7.28" fill="#4575B4"/>
<rect x="92.00" y="283.31" width="18.70" height="7.28" fill="#4575B4"/>
<rect x="110.70" y="283.31" width="18.70" height="7.28" fill="#4575B4"/>
<rect x="129.40" y="283.31" width="18.70" height="7.28" fill="#4575B4"/>
<rect x="148.10" y="283.31" width="18.70" height="7.28" fill="#91BFDB"/>
<rect x="166.80" y="283.31" width="18.70" height="7.28" fill="#4575B4"/>
<rect x="185.50" y="283.31" width="18.70" height="7.28" fill="#4575B4"/>
<rect x="204.20" y="283.31" width="18.70" height="7.28" fill="#B8D9EA"/>
<rect x="222.90" y="283.31" width="18.70" height="7.28" fill="#4575B4"/>
<rect x="241.60" y="283.31" width="18.70" height="7.28" fill="#4575B4"/>
<rect x="260.30" y="283.31" width="18.70" height="7.28" fill="#4575B4"/>
<rect x="279.00" y="283.31" width="18.70" height="7.28" fill="#4575B4"/>
<rect x="35.90" y="290.58" width="18.70" height="7.28" fill="#4575B4"/>
<rect x="54.60" y="290.58" width="18.70" height="7.28" fill="#4575B4"/>
<rect x="73.30" y="290.58" width="18.70" height="7.28" fill="#4575B4"/>
<rect x="92.00" y="290.58" width="18.70" height="7.28" fill="#4575B4"/>
<rect x="110.70" y="290.58" width="18.70" height="7.28" fill="#6B9AC8"/>
<rect x="129.40" y="290.58" width="18.70" height="7.28" fill="#4575B4"/>
<rect x="148.10" y="290.58" width="18.70" height="7.28" fill="#4575B4"/>
<rect x="166.80" y="290.58" width="18.70" height="7.28" fill="#4575B4"/>
<rect x="185.50" y="290.58" width="18.70" height="7.28" fill="#DCEFF4"/>
<rect x="204.20" y="290.58" width="18.70" height="7.28" fill="#ECF5DD"/>
<rect x="222.90" y="290.58" width="18.70" height="7.28" fill="#DCEFF4"/>
<rect x="241.60" y="290.58" width="18.70" height="7.28" fill="#4575B4"/>
<rect x="260.30" y="290.58" width="18.70" height="7.28" fill="#4575B4"/>
<rect x="279.00" y="290.58" width="18.70" height="7.28" fill="#B8D9EA"/>
<rect x="35.90" y="297.86" width="18.70" height="7.28" fill="#B8D9EA"/>
<rect x="54.60" y="297.86" width="18.70" height="7.28" fill="#4575B4"/>
<rect x="73.30" y="297.86" width="18.70" height="7.28" fill="#91BFDB"/>
<rect x="92.00" y="297.86" width="18.70" height="7.28" fill="#4575B4"/>
<rect x="110.70" y="297.86" width="18.70" height="7.28" fill="#4575B4"/>
<rect x="129.40" y="297.86" width="18.70" height="7.28" fill="#4575B4"/>
<rect x="148.10" y="297.86" width="18.70" height="7.28" fill="#4575B4"/>
<rect x="166.80" y="297.86" width="18.70" height="7.28" fill="#4575B4"/>
<rect x="185.50" y="297.86" width="18.70" height="7.28" fill="#ECF5DD"/>
<rect x="204.20" y="297.86" width="18.70" height="7.28" fill="#F8F6C8"/>
<rect x="222.90" y="297.86" width="18.70" height="7.28" fill="#6B9AC8"/>
<rect x="241.60" y="297.86" width="18.70" height="7.28" fill="#91BFDB"/>
<rect x="260.30" y="297.86" width="18.70" height="7.28" fill="#6B9AC8"/>
<rect x="279.00" y="297.86" width="18.70" height="7.28" fill="#B8D9EA"/>
<rect x="35.90" y="305.14" width="18.70" height="7.28" fill="#91BFDB"/>
<rect x="54.60" y="305.14" width="18.70" height="7.28" fill="#4575B4"/>
<rect x="73.30" y="305.14" width="18.70" height="7.28" fill="#4575B4"/>
<rect x="92.00" y="305.14" width="18.70" height="7.28" fill="#4575B4"/>
<rect x="110.70" y="305.14" width="18.70" height="7.28" fill="#4575B4"/>
<rect x="129.40" y="305.14" width="18.70" height="7.28" fill="#4575B4"/>
<rect x="148.10" y="305.14" width="18.70" height="7.28" fill="#4575B4"/>
<rect x="166.80" y="305.14" width="18.70" height="7.28" fill="#91BFDB"/>
<rect x="185.50" y="305.14" width="18.70" height="7.28" fill="#DCEFF4"/>
<rect x="204.20" y="305.14" width="18.70" height="7.28" fill="#ECF5DD"/>
<rect x="222.90" y="305.14" width="18.70" height="7.28" fill="#B8D9EA"/>
<rect x="241.60" y="305.14" width="18.70" height="7.28" fill="#91BFDB"/>
<rect x="260.30" y="305.14" width="18.70" height="7.28" fill="#B8D9EA"/>
<rect x="279.00" y="305.14" width="18.70" height="7.28" fill="#B8D9EA"/>
<rect x="35.90" y="312.41" width="18.70" height="7.28" fill="#4575B4"/>
<rect x="54.60" y="312.41" width="18.70" height="7.28" fill="#4575B4"/>
<rect x="73.30" y="312.41" width="18.70" height="7.28" fill="#4575B4"/>
<rect x="92.00" y="312.41" width="18.70" height="7.28" fill="#4575B4"/>
<rect x="110.70" y="312.41" width="18.70" height="7.28" fill="#4575B4"/>
<rect x="129.40" y="312.41" width="18.70" height="7.28" fill="#4575B4"/>
<rect x="148.10" y="312.41" width="18.70" height="7.28" fill="#4575B4"/>
<rect x="166.80" y="312.41" width="18.70" height="7.28" fill="#4575B4"/>
<rect x="185.50" y="312.41" width="18.70" height="7.28" fill="#DCEFF4"/>
<rect x="204.20" y="312.41" width="18.70" height="7.28" fill="#ECF5DD"/>
<rect x="222.90" y="312.41" width="18.70" height="7.28" fill="#91BFDB"/>
<rect x="241.60" y="312.41" width="18.70" height="7.28" fill="#91BFDB"/>
<rect x="260.30" y="312.41" width="18.70" height="7.28" fill="#B8D9EA"/>
<rect x="279.00" y="312.41" width="18.70" height="7.28" fill="#91BFDB"/>
<rect x="35.90" y="319.69" width="18.70" height="7.28" fill="#4575B4"/>
<rect x="54.60" y="319.69" width="18.70" height="7.28" fill="#4575B4"/>
<rect x="73.30" y="319.69" width="18.70" height="7.28" fill="#4575B4"/>
<rect x="92.00" y="319.69" width="18.70" height="7.28" fill="#4575B4"/>
<rect x="110.70" y="319.69" width="18.70" height="7.28" fill="#4575B4"/>
<rect x="129.40" y="319.69" width="18.70" height="7.28" fill="#4575B4"/>
<rect x="148.10" y="319.69" width="18.70" height="7.28" fill="#4575B4"/>
<rect x="166.80" y="319.69" width="18.70" height="7.28" fill="#4575B4"/>
<rect x="185.50" y="319.69" width="18.70" height="7.28" fill="#FEF0A8"/>
<rect x="204.20" y="319.69" width="18.70" height="7.28" fill="#F8F6C8"/>
<rect x="222.90" y="319.69" width="18.70" height="7.28" fill="#DCEFF4"/>
<rect x="241.60" y="319.69" width="18.70" height="7.28" fill="#91BFDB"/>
<rect x="260.30" y="319.69" width="18.70" height="7.28" fill="#ECF5DD"/>
<rect x="279.00" y="319.69" width="18.70" height="7.28" fill="#DCEFF4"/>
<rect x="35.90" y="326.96" width="18.70" height="7.28" fill="#91BFDB"/>
<rect x="54.60" y="326.96" width="18.70" height="7.28" fill="#4575B4"/>
<rect x="73.30" y="326.96" width="18.70" height="7.28" fill="#4575B4"/>
<rect x="92.00" y="326.96" width="18.70" height="7.28" fill="#4575B4"/>
<rect x="110.70" y="326.96" width="18.70" height="7.28" fill="#4575B4"/>
<rect x="129.40" y="326.96" width="18.70" height="7.28" fill="#4575B4"/>
<rect x="148.10" y="326.96" width="18.70" height="7.28" fill="#4575B4"/>
<rect x="166.80" y="326.96" width="18.70" height="7.28" fill="#B8D9EA"/>
<rect x="185.50" y="326.96" width="18.70" height="7.28" fill="#ECF5DD"/>
<rect x="204.20" y="326.96" width="18.70" height="7.28" fill="#ECF5DD"/>
<rect x="222.90" y="326.96" width="18.70" height="7.28" fill="#FEF0A8"/>
<rect x="241.60" y="326.96" width="18.70" height="7.28" fill="#4575B4"/>
<rect x="260.30" y="326.96" width="18.70" height="7.28" fill="#B8D9EA"/>
<rect x="279.00" y="326.96" width="18.70" height="7.28" fill="#6B9AC8"/>
<rect x="35.90" y="334.24" width="18.70" height="7.28" fill="#4575B4"/>
<rect x="54.60" y="334.24" width="18.70" height="7.28" fill="#4575B4"/>
<rect x="73.30" y="334.24" width="18.70" height="7.28" fill="#4575B4"/>
<rect x="92.00" y="334.24" width="18.70" height="7.28" fill="#4575B4"/>
<rect x="110.70" y="334.24" width="18.70" height="7.28" fill="#4575B4"/>
<rect x="129.40" y="334.24" width="18.70" height="7.28" fill="#4575B4"/>
<rect x="148.10" y="334.24" width="18.70" height="7.28" fill="#4575B4"/>
<rect x="166.80" y="334.24" width="18.70" height="7.28" fill="#B8D9EA"/>
<rect x="185.50" y="334.24" width="18.70" height="7.28" fill="#DCEFF4"/>
<rect x="204.20" y="334.24" width="18.70" height="7.28" fill="#F8F6C8"/>
<rect x="222.90" y="334.24" width="18.70" height="7.28" fill="#B8D9EA"/>
<rect x="241.60" y="334.24" width="18.70" height="7.28" fill="#4575B4"/>
<rect x="260.30" y="334.24" width="18.70" height="7.28" fill="#B8D9EA"/>
<rect x="279.00" y="334.24" width="18.70" height="7.28" fill="#4575B4"/>
<rect x="35.90" y="341.52" width="18.70" height="7.28" fill="#4575B4"/>
<rect x="54.60" y="341.52" width="18.70" height="7.28" fill="#DCEFF4"/>
<rect x="73.30" y="341.52" width="18.70" height="7.28" fill="#B8D9EA"/>
<rect x="92.00" y="341.52" width="18.70" height="7.28" fill="#B8D9EA"/>
<rect x="110.70" y="341.52" width="18.70" height="7.28" fill="#ECF5DD"/>
<rect x="129.40" y="341.52" width="18.70" height="7.28" fill="#4575B4"/>
<rect x="148.10" y="341.52" width="18.70" height="7.28" fill="#B8D9EA"/>
<rect x="166.80" y="341.52" width="18.70" height="7.28" fill="#DCEFF4"/>
<rect x="185.50" y="341.52" width="18.70" height="7.28" fill="#FEF0A8"/>
<rect x="204.20" y="341.52" width="18.70" height="7.28" fill="#B8D9EA"/>
<rect x="222.90" y="341.52" width="18.70" height="7.28" fill="#B8D9EA"/>
<rect x="241.60" y="341.52" width="18.70" height="7.28" fill="#B8D9EA"/>
<rect x="260.30" y="341.52" width="18.70" height="7.28" fill="#DCEFF4"/>
<rect x="279.00" y="341.52" width="18.70" height="7.28" fill="#4575B4"/>
<rect x="35.90" y="348.79" width="18.70" height="7.28" fill="#B8D9EA"/>
<rect x="54.60" y="348.79" width="18.70" height="7.28" fill="#B8D9EA"/>
<rect x="73.30" y="348.79" width="18.70" height="7.28" fill="#91BFDB"/>
<rect x="92.00" y="348.79" width="18.70" height="7.28" fill="#B8D9EA"/>
<rect x="110.70" y="348.79" width="18.70" height="7.28" fill="#91BFDB"/>
<rect x="129.40" y="348.79" width="18.70" height="7.28" fill="#4575B4"/>
<rect x="148.10" y="348.79" width="18.70" height="7.28" fill="#B8D9EA"/>
<rect x="166.80" y="348.79" width="18.70" height="7.28" fill="#B8D9EA"/>
<rect x="185.50" y="348.79" width="18.70" height="7.28" fill="#F8F6C8"/>
<rect x="204.20" y="348.79" width="18.70" height="7.28" fill="#F8F6C8"/>
<rect x="222.90" y="348.79" width="18.70" height="7.28" fill="#ECF5DD"/>
<rect x="241.60" y="348.79" width="18.70" height="7.28" fill="#DCEFF4"/>
<rect x="260.30" y="348.79" width="18.70" height="7.28" fill="#DCEFF4"/>
<rect x="279.00" y="348.79" width="18.70" height="7.28" fill="#B8D9EA"/>
<rect x="35.90" y="356.07" width="18.70" height="7.28" fill="#B8D9EA"/>
<rect x="54.60" y="356.07" width="18.70" height="7.28" fill="#B8D9EA"/>
<rect x="73.30" y="356.07" width="18.70" height="7.28" fill="#B8D9EA"/>
<rect x="92.00" y="356.07" width="18.70" height="7.28" fill="#B8D9EA"/>
<rect x="110.70" y="356.07" width="18.70" height="7.28" fill="#91BFDB"/>
<rect x="129.40" y="356.07" width="18.70" height="7.28" fill="#4575B4"/>
<rect x="148.10" y="356.07" width="18.70" height="7.28" fill="#91BFDB"/>
<rect x="166.80" y="356.07" width="18.70" height="7.28" fill="#B8D9EA"/>
<rect x="185.50" y="356.07" width="18.70" height="7.28" fill="#ECF5DD"/>
<rect x="204.20" y="356.07" width="18.70" height="7.28" fill="#F8F6C8"/>
<rect x="222.90" y="356.07" width="18.70" height="7.28" fill="#ECF5DD"/>
<rect x="241.60" y="356.07" width="18.70" height="7.28" fill="#DCEFF4"/>
<rect x="260.30" y="356.07" width="18.70" height="7.28" fill="#DCEFF4"/>
<rect x="279.00" y="356.07" width="18.70" height="7.28" fill="#B8D9EA"/>
<rect x="35.90" y="363.34" width="18.70" height="7.28" fill="#6B9AC8"/>
<rect x="54.60" y="363.34" width="18.70" height="7.28" fill="#B8D9EA"/>
<rect x="73.30" y="363.34" width="18.70" height="7.28" fill="#B8D9EA"/>
<rect x="92.00" y="363.34" width="18.70" height="7.28" fill="#B8D9EA"/>
<rect x="110.70" y="363.34" width="18.70" height="7.28" fill="#91BFDB"/>
<rect x="129.40" y="363.34" width="18.70" height="7.28" fill="#4575B4"/>
<rect x="148.10" y="363.34" width="18.70" height="7.28" fill="#B8D9EA"/>
<rect x="166.80" y="363.34" width="18.70" height="7.28" fill="#B8D9EA"/>
<rect x="185.50" y="363.34" width="18.70" height="7.28" fill="#F8F6C8"/>
<rect x="204.20" y="363.34" width="18.70" height="7.28" fill="#F8F6C8"/>
<rect x="222.90" y="363.34" width="18.70" height="7.28" fill="#DCEFF4"/>
<rect x="241.60" y="363.34" width="18.70" height="7.28" fill="#B8D9EA"/>
<rect x="260.30" y="363.34" width="18.70" height="7.28" fill="#DCEFF4"/>
<rect x="279.00" y="363.34" width="18.70" height="7.28" fill="#ECF5DD"/>
<rect x="35.90" y="370.62" width="18.70" height="7.28" fill="#4575B4"/>
<rect x="54.60" y="370.62" width="18.70" height="7.28" fill="#DCEFF4"/>
<rect x="73.30" y="370.62" width="18.70" height="7.28" fill="#B8D9EA"/>
<rect x="92.00" y="370.62" width="18.70" height="7.28" fill="#B8D9EA"/>
<rect x="110.70" y="370.62" width="18.70" height="7.28" fill="#91BFDB"/>
<rect x="129.40" y="370.62" width="18.70" height="7.28" fill="#4575B4"/>
<rect x="148.10" y="370.62" width="18.70" height="7.28" fill="#B8D9EA"/>
<rect x="166.80" y="370.62" width="18.70" height="7.28" fill="#91BFDB"/>
<rect x="185.50" y="370.62" width="18.70" height="7.28" fill="#FEF0A8"/>
<rect x="204.20" y="370.62" width="18.70" height="7.28" fill="#FEE090"/>
<rect x="222.90" y="370.62" width="18.70" height="7.28" fill="#ECF5DD"/>
<rect x="241.60" y="370.62" width="18.70" height="7.28" fill="#DCEFF4"/>
<rect x="260.30" y="370.62" width="18.70" height="7.28" fill="#ECF5DD"/>
<rect x="279.00" y="370.62" width="18.70" height="7.28" fill="#DCEFF4"/>
<rect x="35.90" y="377.90" width="18.70" height="7.28" fill="#4575B4"/>
<rect x="54.60" y="377.90" width="18.70" height="7.28" fill="#4575B4"/>
<rect x="73.30" y="377.90" width="18.70" height="7.28" fill="#4575B4"/>
<rect x="92.00" y="377.90" width="18.70" height="7.28" fill="#91BFDB"/>
<rect x="110.70" y="377.90" width="18.70" height="7.28" fill="#4575B4"/>
<rect x="129.40" y="377.90" width="18.70" height="7.28" fill="#4575B4"/>
<rect x="148.10" y="377.90" width="18.70" height="7.28" fill="#4575B4"/>
<rect x="166.80" y="377.90" width="18.70" height="7.28" fill="#6B9AC8"/>
<rect x="185.50" y="377.90" width="18.70" height="7.28" fill="#ECF5DD"/>
<rect x="204.20" y="377.90" width="18.70" height="7.28" fill="#F8F6C8"/>
<rect x="222.90" y="377.90" width="18.70" height="7.28" fill="#91BFDB"/>
<rect x="241.60" y="377.90" width="18.70" height="7.28" fill="#FDB674"/>
<rect x="260.30" y="377.90" width="18.70" height="7.28" fill="#B8D9EA"/>
<rect x="279.00" y="377.90" width="18.70" height="7.28" fill="#4575B4"/>
<rect x="35.90" y="385.17" width="18.70" height="7.28" fill="#4575B4"/>
<rect x="54.60" y="385.17" width="18.70" height="7.28" fill="#6B9AC8"/>
<rect x="73.30" y="385.17" width="18.70" height="7.28" fill="#4575B4"/>
<rect x="92.00" y="385.17" width="18.70" height="7.28" fill="#4575B4"/>
<rect x="110.70" y="385.17" width="18.70" height="7.28" fill="#4575B4"/>
<rect x="129.40" y="385.17" width="18.70" height="7.28" fill="#4575B4"/>
<rect x="148.10" y="385.17" width="18.70" height="7.28" fill="#91BFDB"/>
<rect x="166.80" y="385.17" width="18.70" height="7.28" fill="#4575B4"/>
<rect x="185.50" y="385.17" width="18.70" height="7.28" fill="#F8F6C8"/>
<rect x="204.20" y="385.17" width="18.70" height="7.28" fill="#FEF0A8"/>
<rect x="222.90" y="385.17" width="18.70" height="7.28" fill="#B8D9EA"/>
<rect x="241.60" y="385.17" width="18.70" height="7.28" fill="#ECF5DD"/>
<rect x="260.30" y="385.17" width="18.70" height="7.28" fill="#4575B4"/>
<rect x="279.00" y="385.17" width="18.70" height="7.28" fill="#91BFDB"/>
<rect x="35.90" y="392.45" width="18.70" height="7.28" fill="#4575B4"/>
<rect x="54.60" y="392.45" width="18.70" height="7.28" fill="#91BFDB"/>
<rect x="73.30" y="392.45" width="18.70" height="7.28" fill="#4575B4"/>
<rect x="92.00" y="392.45" width="18.70" height="7.28" fill="#4575B4"/>
<rect x="110.70" y="392.45" width="18.70" height="7.28" fill="#4575B4"/>
<rect x="129.40" y="392.45" width="18.70" height="7.28" fill="#4575B4"/>
<rect x="148.10" y="392.45" width="18.70" height="7.28" fill="#B8D9EA"/>
<rect x="166.80" y="392.45" width="18.70" height="7.28" fill="#91BFDB"/>
<rect x="185.50" y="392.45" width="18.70" height="7.28" fill="#F8F6C8"/>
<rect x="204.20" y="392.45" width="18.70" height="7.28" fill="#ECF5DD"/>
<rect x="222.90" y="392.45" width="18.70" height="7.28" fill="#B8D9EA"/>
<rect x="241.60" y="392.45" width="18.70" height="7.28" fill="#DCEFF4"/>
<rect x="260.30" y="392.45" width="18.70" height="7.28" fill="#B8D9EA"/>
<rect x="279.00" y="392.45" width="18.70" height="7.28" fill="#91BFDB"/>
<rect x="35.90" y="399.72" width="18.70" height="7.28" fill="#4575B4"/>
<rect x="54.60" y="399.72" width="18.70" height="7.28" fill="#91BFDB"/>
<rect x="73.30" y="399.72" width="18.70" height="7.28" fill="#4575B4"/>
<rect x="92.00" y="399.72" width="18.70" height="7.28" fill="#6B9AC8"/>
<rect x="110.70" y="399.72" width="18.70" height="7.28" fill="#4575B4"/>
<rect x="129.40" y="399.72" width="18.70" height="7.28" fill="#4575B4"/>
<rect x="148.10" y="399.72" width="18.70" height="7.28" fill="#91BFDB"/>
<rect x="166.80" y="399.72" width="18.70" height="7.28" fill="#B8D9EA"/>
<rect x="185.50" y="399.72" width="18.70" height="7.28" fill="#DCEFF4"/>
<rect x="204.20" y="399.72" width="18.70" height="7.28" fill="#ECF5DD"/>
<rect x="222.90" y="399.72" width="18.70" height="7.28" fill="#91BFDB"/>
<rect x="241.60" y="399.72" width="18.70" height="7.28" fill="#ECF5DD"/>
<rect x="260.30" y="399.72" width="18.70" height="7.28" fill="#B8D9EA"/>
<rect x="279.00" y="399.72" width="18.70" height="7.28" fill="#B8D9EA"/>
<path d="M35.90 43.20H297.70M35.90 50.48H297.70M35.90 57.75H297.70M35.90 65.03H297.70M35.90 72.30H297.70M35.90 79.58H297.70M35.90 86.86H297.70M35.90 94.13H297.70M35.90 101.41H297.70M35.90 108.68H297.70M35.90 115.96H297.70M35.90 123.24H297.70M35.90 130.51H297.70M35.90 137.79H297.70M35.90 145.06H297.70M35.90 152.34H297.70M35.90 159.62H297.70M35.90 166.89H297.70M35.90 174.17H297.70M35.90 181.44H297.70M35.90 188.72H297.70M35.90 196.00H297.70M35.90 203.27H297.70M35.90 210.55H297.70M35.90 217.82H297.70M35.90 225.10H297.70M35.90 232.38H297.70M35.90 239.65H297.70M35.90 246.93H297.70M35.90 254.20H297.70M35.90 261.48H297.70M35.90 268.76H297.70M35.90 276.03H297.70M35.90 283.31H297.70M35.90 290.58H297.70M35.90 297.86H297.70M35.90 305.14H297.70M35.90 312.41H297.70M35.90 319.69H297.70M35.90 326.96H297.70M35.90 334.24H297.70M35.90 341.52H297.70M35.90 348.79H297.70M35.90 356.07H297.70M35.90 363.34H297.70M35.90 370.62H297.70M35.90 377.90H297.70M35.90 385.17H297.70M35.90 392.45H297.70M35.90 399.72H297.70M35.90 407.00H297.70M35.90 43.20V407.00M54.60 43.20V407.00M73.30 43.20V407.00M92.00 43.20V407.00M110.70 43.20V407.00M129.40 43.20V407.00M148.10 43.20V407.00M166.80 43.20V407.00M185.50 43.20V407.00M204.20 43.20V407.00M222.90 43.20V407.00M241.60 43.20V407.00M260.30 43.20V407.00M279.00 43.20V407.00M297.70 43.20V407.00" stroke="#9a9a9a" stroke-width="0.5" fill="none" opacity="0.9"/>
<rect x="35.90" y="35.9" width="18.70" height="5.8" fill="#03CF5E"/>
<rect x="54.60" y="35.9" width="18.70" height="5.8" fill="#03CF5E"/>
<rect x="73.30" y="35.9" width="18.70" height="5.8" fill="#03CF5E"/>
<rect x="92.00" y="35.9" width="18.70" height="5.8" fill="#FA8980"/>
<rect x="110.70" y="35.9" width="18.70" height="5.8" fill="#FA8980"/>
<rect x="129.40" y="35.9" width="18.70" height="5.8" fill="#80B1F8"/>
<rect x="148.10" y="35.9" width="18.70" height="5.8" fill="#FA8980"/>
<rect x="166.80" y="35.9" width="18.70" height="5.8" fill="#80B1F8"/>
<rect x="185.50" y="35.9" width="18.70" height="5.8" fill="#FA8980"/>
<rect x="204.20" y="35.9" width="18.70" height="5.8" fill="#FA8980"/>
<rect x="222.90" y="35.9" width="18.70" height="5.8" fill="#03CF5E"/>
<rect x="241.60" y="35.9" width="18.70" height="5.8" fill="#03CF5E"/>
<rect x="260.30" y="35.9" width="18.70" height="5.8" fill="#FA8980"/>
<rect x="279.00" y="35.9" width="18.70" height="5.8" fill="#03CF5E"/>
<path d="M35.90 35.9V41.7M54.60 35.9V41.7M73.30 35.9V41.7M92.00 35.9V41.7M110.70 35.9V41.7M129.40 35.9V41.7M148.10 35.9V41.7M166.80 35.9V41.7M185.50 35.9V41.7M204.20 35.9V41.7M222.90 35.9V41.7M241.60 35.9V41.7M260.30 35.9V41.7M279.00 35.9V41.7M297.70 35.9V41.7M35.90 35.9H297.70M35.90 41.7H297.70" stroke="#bdbdbd" stroke-width="0.4" fill="none"/>
<path d="M45.25 35.90V26.40H63.95V35.90M101.35 35.90V27.80H120.05V35.90M82.65 35.90V26.60H110.70V27.80M54.60 26.40V24.30H96.67V26.60M157.45 35.90V25.50H176.15V35.90M138.75 35.90V21.50H166.80V25.50M75.64 24.30V16.70H152.78V21.50M194.85 35.90V21.10H213.55V35.90M269.65 35.90V23.40H288.35V35.90M250.95 35.90V21.50H279.00V23.40M232.25 35.90V20.60H264.98V21.50M204.20 21.10V13.20H248.61V20.60M114.21 16.70V3.00H226.41V13.20" stroke="#444" stroke-width="0.8" fill="none"/>
<path d="M35.90 46.84H34.10V54.11H35.90M35.90 61.39H33.40V68.67H35.90M34.10 50.48H29.30V65.03H33.40M35.90 75.94H21.40V83.22H35.90M29.30 57.75H19.50V79.58H21.40M35.90 97.77H32.00V105.05H35.90M35.90 112.32H31.30V119.60H35.90M32.00 101.41H29.60V115.96H31.30M35.90 126.87H34.80V134.15H35.90M34.80 130.51H32.30V141.43H35.90M35.90 155.98H34.50V163.25H35.90M35.90 148.70H33.00V159.62H34.50M32.30 135.97H29.90V154.16H33.00M29.60 108.68H29.40V145.06H29.90M35.90 170.53H33.00V177.81H35.90M35.90 185.08H34.20V192.36H35.90M35.90 199.63H33.80V206.91H35.90M34.20 188.72H32.50V203.27H33.80M33.00 174.17H31.50V196.00H32.50M35.90 214.19H33.60V221.46H35.90M35.90 228.74H33.20V236.01H35.90M33.60 217.82H32.40V232.38H33.20M35.90 243.29H33.50V250.57H35.90M35.90 257.84H32.50V265.12H35.90M33.50 246.93H32.50V261.48H32.50M32.40 225.10H31.00V254.20H32.50M31.50 185.08H30.60V239.65H31.00M35.90 279.67H34.00V286.95H35.90M35.90 272.39H33.00V283.31H34.00M30.60 212.37H28.40V277.85H33.00M29.40 126.87H27.60V245.11H28.40M35.90 294.22H35.00V301.50H35.90M35.90 308.77H34.00V316.05H35.90M35.00 297.86H33.00V312.41H34.00M35.90 330.60H33.50V337.88H35.90M35.90 323.33H32.00V334.24H33.50M33.00 305.14H31.00V328.78H32.00M35.90 345.15H32.50V352.43H35.90M35.90 359.71H32.00V366.98H35.90M32.50 348.79H30.30V363.34H32.00M35.90 374.26H32.50V381.53H35.90M35.90 396.09H33.00V403.36H35.90M35.90 388.81H31.50V399.72H33.00M32.50 377.90H30.50V394.27H31.50M30.30 356.07H29.60V386.08H30.50M31.00 316.96H27.30V371.07H29.60M27.60 185.99H23.10V344.02H27.30M35.90 90.49H17.00V265.00H23.10M19.50 68.67H3.00V177.75H17.00" stroke="#444" stroke-width="0.8" fill="none"/>
<g font-size="6.6" font-style="italic" fill="#1a1a1a" stroke="#111" stroke-width="0.2" transform="translate(299.8,0) scale(0.93,1)">
<text x="0" y="49.44">SV011:Enterobacter</text>
<text x="0" y="56.71">SV012:Pseudomonas</text>
<text x="0" y="63.99">SV007:f__Enterobacteriaceae</text>
<text x="0" y="71.27">SV009:Raoultella</text>
<text x="0" y="78.54">SV002:Asaia</text>
<text x="0" y="85.82">SV001:Gluconobacter</text>
<text x="0" y="93.09">SV003:Chryseobacterium</text>
<text x="0" y="100.37">SV044:Blastomonas</text>
<text x="0" y="107.65">SV062:Micrococcus</text>
<text x="0" y="114.92">SV055:Cutibacterium</text>
<text x="0" y="122.20">SV060:Shewanella</text>
<text x="0" y="129.47">SV094:Thermus</text>
<text x="0" y="136.75">SV085:Pannonibacter</text>
<text x="0" y="144.03">SV113:Pseudoglutamicibacter</text>
<text x="0" y="151.30">SV087:Schlegelella</text>
<text x="0" y="158.58">SV118:Allorhizobium-Neorhizobium-Pararhizobium-Rhizobium</text>
<text x="0" y="165.85">SV108:Castellaniella</text>
<text x="0" y="173.13">SV089:Bosea</text>
<text x="0" y="180.41">SV136:Serratia</text>
<text x="0" y="187.68">SV101:f__Sphingomonadaceae</text>
<text x="0" y="194.96">SV068:Hydrogenophilus</text>
<text x="0" y="202.23">SV112:Massilia</text>
<text x="0" y="209.51">SV172:Truepera</text>
<text x="0" y="216.79">SV097:f__Rhodanobacteraceae</text>
<text x="0" y="224.06">SV109:f__Microbacteriaceae</text>
<text x="0" y="231.34">SV063:Curvibacter</text>
<text x="0" y="238.61">SV078:Pula</text>
<text x="0" y="245.89">SV088:Rheinheimera</text>
<text x="0" y="253.17">SV061:Brevundimonas</text>
<text x="0" y="260.44">SV121:Kocuria</text>
<text x="0" y="267.72">SV169:Neokomagataea</text>
<text x="0" y="274.99">SV049:Roseomonas</text>
<text x="0" y="282.27">SV123:f__Weeksellaceae</text>
<text x="0" y="289.55">SV110:Stenotrophomonas</text>
<text x="0" y="296.82">SV084:Atopostipes</text>
<text x="0" y="304.10">SV050:f__Rhizobiaceae</text>
<text x="0" y="311.37">SV045:Acidibacter</text>
<text x="0" y="318.65">SV042:Enhydrobacter</text>
<text x="0" y="325.93">SV043:Methylobacterium-Methylorubrum</text>
<text x="0" y="333.20">SV039:Staphylococcus</text>
<text x="0" y="340.48">SV073:Corynebacterium</text>
<text x="0" y="347.75">SV024:Escherichia-Shigella</text>
<text x="0" y="355.03">SV023:Bradyrhizobium</text>
<text x="0" y="362.31">SV025:Rhodococcus</text>
<text x="0" y="369.58">SV026:Sphingomonas</text>
<text x="0" y="376.86">SV022:Citrobacter</text>
<text x="0" y="384.13">SV018:Acinetobacter</text>
<text x="0" y="391.41">SV037:Paracoccus</text>
<text x="0" y="398.69">SV040:Anaeromyxobacter</text>
<text x="0" y="405.96">SV041:Delftia</text>
</g>
<text x="299.8" y="40.6" font-size="6.3" font-weight="bold" fill="#1a1a1a" stroke="#1a1a1a" stroke-width="0.12">Group</text>
<g font-size="6.45" fill="#1a1a1a" stroke="#1a1a1a" stroke-width="0.15">
<text transform="translate(42.25,408.80) rotate(90)" x="0" y="0">NP4</text>
<text transform="translate(60.95,408.80) rotate(90)" x="0" y="0">NP5</text>
<text transform="translate(79.65,408.80) rotate(90)" x="0" y="0">NP1</text>
<text transform="translate(98.35,408.80) rotate(90)" x="0" y="0">NN4</text>
<text transform="translate(117.05,408.80) rotate(90)" x="0" y="0">NN5</text>
<text transform="translate(135.75,408.80) rotate(90)" x="0" y="0" textLength="27.8" lengthAdjust="spacingAndGlyphs">uninfected01</text>
<text transform="translate(154.45,408.80) rotate(90)" x="0" y="0">NN1</text>
<text transform="translate(173.15,408.80) rotate(90)" x="0" y="0" textLength="27.8" lengthAdjust="spacingAndGlyphs">uninfected02</text>
<text transform="translate(191.85,408.80) rotate(90)" x="0" y="0">NN2</text>
<text transform="translate(210.55,408.80) rotate(90)" x="0" y="0">NN3</text>
<text transform="translate(229.25,408.80) rotate(90)" x="0" y="0">NP3</text>
<text transform="translate(247.95,408.80) rotate(90)" x="0" y="0">NP2</text>
<text transform="translate(266.65,408.80) rotate(90)" x="0" y="0">NN6</text>
<text transform="translate(285.35,408.80) rotate(90)" x="0" y="0">NP6</text>
</g>
<defs><linearGradient id="lg" x1="0" y1="1" x2="0" y2="0">
<stop offset="0.0000" stop-color="#4575B4"/>
<stop offset="0.1667" stop-color="#91BFDB"/>
<stop offset="0.3333" stop-color="#E0F3F8"/>
<stop offset="0.5000" stop-color="#FFFFBF"/>
<stop offset="0.6667" stop-color="#FEE090"/>
<stop offset="0.8333" stop-color="#FC8D59"/>
<stop offset="1.0000" stop-color="#D73027"/>
</linearGradient></defs>
<rect x="447.2" y="35.1" width="6.1" height="91.4" fill="url(#lg)"/>
<g font-size="6.4" fill="#1a1a1a" stroke="#1a1a1a" stroke-width="0.12">
<text x="456.3" y="128.80">0</text>
<text x="456.3" y="109.80">1</text>
<text x="456.3" y="90.80">2</text>
<text x="456.3" y="71.80">3</text>
<text x="456.3" y="52.80">4</text>
</g>
<text x="465" y="40.3" font-size="6.25" font-weight="bold" fill="#1a1a1a" stroke="#1a1a1a" stroke-width="0.12">Group</text>
<rect x="465" y="42.3" width="9" height="9" fill="#03CF5E"/>
<rect x="465" y="51.3" width="9" height="9" fill="#FA8980"/>
<rect x="465" y="60.3" width="9" height="9" fill="#80B1F8"/>
<g font-size="4.75" font-weight="bold" fill="#1a1a1a">
<text x="475.8" y="47.8">Infected</text><text x="475.8" y="57.6">Non-infected</text><text x="475.8" y="67.6">Negative</text>
</g>
<text x="448.4" y="432.5" font-family="Liberation Serif" font-size="22.2" font-weight="bold" fill="#000" style="font-family:'Liberation Serif',serif">A</text>
<text x="780" y="435.3" font-size="22.2" font-weight="bold" fill="#000" style="font-family:'Liberation Serif',serif">B</text>
<defs>
<clipPath id="cTv0"><circle cx="670.8" cy="83.3" r="77"/></clipPath>
<clipPath id="cLv0"><circle cx="639.3" cy="136.3" r="77"/></clipPath>
<clipPath id="cRv0"><circle cx="701.4" cy="136.3" r="77"/></clipPath>
</defs>
<circle cx="670.8" cy="83.3" r="77" fill="#ADD8E6"/>
<circle cx="701.4" cy="136.3" r="77" fill="#D9D9D9"/>
<circle cx="639.3" cy="136.3" r="77" fill="#FFFFFF"/>
<g clip-path="url(#cTv0)"><circle cx="701.4" cy="136.3" r="77" fill="#C5D8DF"/><circle cx="639.3" cy="136.3" r="77" fill="#D6EBF2"/></g>
<g clip-path="url(#cRv0)"><circle cx="639.3" cy="136.3" r="77" fill="#ECECEC"/></g>
<g clip-path="url(#cRv0)"><g clip-path="url(#cTv0)"><circle cx="639.3" cy="136.3" r="77" fill="#D8E4EA"/></g></g>
<circle cx="670.8" cy="83.3" r="77" fill="none" stroke="#2a2a2a" stroke-width="0.8"/>
<circle cx="639.3" cy="136.3" r="77" fill="none" stroke="#2a2a2a" stroke-width="0.8"/>
<circle cx="701.4" cy="136.3" r="77" fill="none" stroke="#2a2a2a" stroke-width="0.8"/>
<text x="673" y="27.1" font-size="7.3" text-anchor="middle" fill="#1a1a1a" stroke="#1a1a1a" stroke-width="0.1" font-weight="bold">Negative</text>
<text x="671.6" y="38.2" font-size="7.3" text-anchor="middle" fill="#1a1a1a" stroke="#1a1a1a" stroke-width="0.18">8</text>
<text x="616.1" y="89.6" font-size="7.3" text-anchor="middle" fill="#1a1a1a" stroke="#1a1a1a" stroke-width="0.18">5</text>
<text x="724.6" y="89.1" font-size="7.3" text-anchor="middle" fill="#1a1a1a" stroke="#1a1a1a" stroke-width="0.18">0</text>
<text x="670.5" y="121.4" font-size="7.3" text-anchor="middle" fill="#1a1a1a" stroke="#1a1a1a" stroke-width="0.18">36</text>
<text x="597" y="153.3" font-size="7.3" text-anchor="middle" fill="#1a1a1a" stroke="#1a1a1a" stroke-width="0.1" font-weight="bold">Non-infected</text>
<text x="598.8" y="164.6" font-size="7.3" text-anchor="middle" fill="#1a1a1a" stroke="#1a1a1a" stroke-width="0.18">152</text>
<text x="743" y="152.6" font-size="7.3" text-anchor="middle" fill="#1a1a1a" stroke="#1a1a1a" stroke-width="0.1" font-weight="bold">Infected</text>
<text x="742.5" y="163.5" font-size="7.3" text-anchor="middle" fill="#1a1a1a" stroke="#1a1a1a" stroke-width="0.18">60</text>
<text x="669" y="184.6" font-size="7.3" text-anchor="middle" fill="#1a1a1a" stroke="#1a1a1a" stroke-width="0.18">29</text>
<defs>
<clipPath id="cTv220"><circle cx="670.8" cy="303.3" r="77"/></clipPath>
<clipPath id="cLv220"><circle cx="639.3" cy="356.3" r="77"/></clipPath>
<clipPath id="cRv220"><circle cx="701.4" cy="356.3" r="77"/></clipPath>
</defs>
<circle cx="670.8" cy="303.3" r="77" fill="#ADD8E6"/>
<circle cx="701.4" cy="356.3" r="77" fill="#D9D9D9"/>
<circle cx="639.3" cy="356.3" r="77" fill="#FFFFFF"/>
<g clip-path="url(#cTv220)"><circle cx="701.4" cy="356.3" r="77" fill="#C5D8DF"/><circle cx="639.3" cy="356.3" r="77" fill="#D6EBF2"/></g>
<g clip-path="url(#cRv220)"><circle cx="639.3" cy="356.3" r="77" fill="#ECECEC"/></g>
<g clip-path="url(#cRv220)"><g clip-path="url(#cTv220)"><circle cx="639.3" cy="356.3" r="77" fill="#D8E4EA"/></g></g>
<circle cx="670.8" cy="303.3" r="77" fill="none" stroke="#2a2a2a" stroke-width="0.8"/>
<circle cx="639.3" cy="356.3" r="77" fill="none" stroke="#2a2a2a" stroke-width="0.8"/>
<circle cx="701.4" cy="356.3" r="77" fill="none" stroke="#2a2a2a" stroke-width="0.8"/>
<text x="669.4" y="246.0" font-size="7.3" text-anchor="middle" fill="#1a1a1a" stroke="#1a1a1a" stroke-width="0.1" font-weight="bold">Negative</text>
<text x="671.3" y="258.0" font-size="7.3" text-anchor="middle" fill="#1a1a1a" stroke="#1a1a1a" stroke-width="0.18">3 %</text>
<text x="616.4" y="309.2" font-size="7.3" text-anchor="middle" fill="#1a1a1a" stroke="#1a1a1a" stroke-width="0.18">2 %</text>
<text x="725" y="309.2" font-size="7.3" text-anchor="middle" fill="#1a1a1a" stroke="#1a1a1a" stroke-width="0.18">&lt; 1 %</text>
<text x="670.7" y="341.9" font-size="7.3" text-anchor="middle" fill="#1a1a1a" stroke="#1a1a1a" stroke-width="0.18">12 %</text>
<text x="597" y="373.2" font-size="7.3" text-anchor="middle" fill="#1a1a1a" stroke="#1a1a1a" stroke-width="0.1" font-weight="bold">Non-infected</text>
<text x="599" y="384.0" font-size="7.3" text-anchor="middle" fill="#1a1a1a" stroke="#1a1a1a" stroke-width="0.18">52 %</text>
<text x="740.7" y="372.9" font-size="7.3" text-anchor="middle" fill="#1a1a1a" stroke="#1a1a1a" stroke-width="0.1" font-weight="bold">Infected</text>
<text x="743" y="384.0" font-size="7.3" text-anchor="middle" fill="#1a1a1a" stroke="#1a1a1a" stroke-width="0.18">21 %</text>
<text x="669" y="404.3" font-size="7.3" text-anchor="middle" fill="#1a1a1a" stroke="#1a1a1a" stroke-width="0.18">10 %</text>
</svg></body></html>
